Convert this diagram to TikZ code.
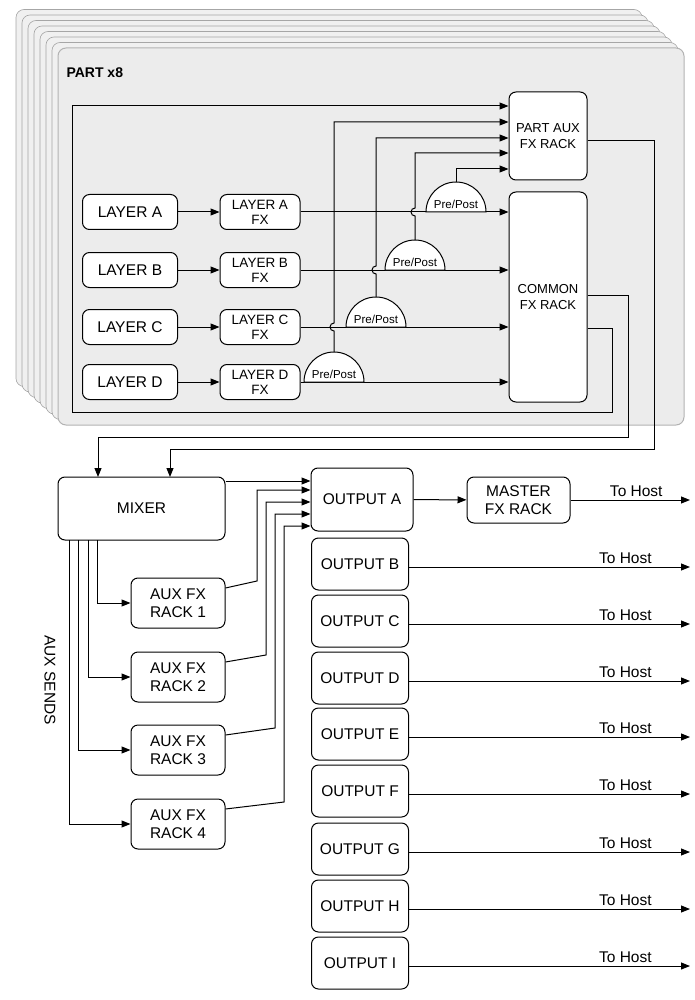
\documentclass[tikz,border=0pt]{standalone}
\usepackage{fontspec}
\setmainfont{Liberation Sans}
\usetikzlibrary{arrows.meta}
\begin{document}
\begin{tikzpicture}[x=1pt,y=-1pt,
  box/.style={draw,rounded corners=7pt,fill=white,line width=1pt,align=center,font=\fontsize{15.5}{18.5}\selectfont,inner sep=1pt},
  arr/.style={-{Triangle[length=9pt,width=7pt]},line width=1pt},
  pp/.style={draw,fill=white,line width=1pt}]
\useasboundingbox (0,0) rectangle (694,1000);
% stacked parts
\foreach \i in {7,6,...,1}{
  \draw[rounded corners=8pt,fill=gray!12,draw=gray!70,line width=0.6pt] (58-6*\i,48-5.5*\i) rectangle (684-6*\i,425-5.5*\i);
}
\draw[rounded corners=8pt,fill=gray!15,draw=gray!60,line width=1pt] (58,48) rectangle (684,425);
\node[font=\bfseries\fontsize{14}{16}\selectfont,anchor=west] (title) at (63,73) {PART x8};
% layer boxes
\foreach \l/\y in {A/212,B/270,C/327,D/382}{
  \node[box,minimum width=95pt,minimum height=35pt] (L\l) at (130,\y) {LAYER \l};
  \node[box,minimum width=80pt,minimum height=35pt,font=\fontsize{13.5}{15}\selectfont] (F\l) at (260,\y) {LAYER \l\\FX};
  \draw[arr] (L\l) -- (F\l);
}
\node[box,minimum width=78pt,minimum height=88pt,font=\fontsize{13}{16}\selectfont] (PA) at (548,136) {PART AUX\\FX RACK};
\node[box,minimum width=78pt,minimum height=210pt,font=\fontsize{13}{16}\selectfont] (CF) at (548,297) {COMMON\\FX RACK};
% main lines to common
\foreach \l/\y in {A/212,B/270,C/327,D/382}{
  \draw[arr] (F\l.east |- 0,\y) -- (CF.west |- 0,\y);
}
% pre/post send lines with hops
\draw[arr] (456,190) |- (PA.west |- 0,169);
\draw[arr] (415,245) -- (415,216) arc[start angle=90,end angle=270,radius=4] -- (415,153) -- (PA.west |- 0,153);
\draw[arr] (376,300) -- (376,274) arc[start angle=90,end angle=270,radius=4] -- (376,138) -- (PA.west |- 0,138);
\draw[arr] (334,355) -- (334,331) arc[start angle=90,end angle=270,radius=4] -- (334,122) -- (PA.west |- 0,122);
% pre/post semicircles
\foreach \x/\y [count=\k] in {456/212,415/270,376/327,334/382}{
  \draw[pp] (\x-30,\y) arc[start angle=180,end angle=360,radius=30] -- cycle;
  \node[font=\fontsize{11.5}{13}\selectfont,inner sep=0pt] (pp\k) at (\x,\y-8) {Pre/Post};
}
% loop from common to part aux
\draw[arr] (CF.east |- 0,328) -| (612,412) -| (72,106) -- (PA.west |- 0,106);
% mixer
\node[box,minimum width=167pt,minimum height=63pt] (MX) at (141.5,508.5) {MIXER};
\draw[arr] (CF.east |- 0,295) -| (628,437) -| (98,477);
\draw[arr] (PA.east |- 0,141) -| (654,449) -| (170,477);
% outputs
\node[box,minimum width=102pt,minimum height=63pt] (OA) at (362,499.5) {OUTPUT A};
\node[box,minimum width=103pt,minimum height=46pt] (MF) at (518.5,500) {MASTER\\FX RACK};
\coordinate (hA) at (690,500);
\draw[arr] (OA) -- (MF);
\draw[arr] (MF) -- node[above,font=\fontsize{15.5}{18}\selectfont,xshift=6pt] (thA) {To Host} (hA);
\foreach \o/\y in {B/564,C/621,D/678,E/734,F/791,G/849,H/906,I/963}{
  \node[box,minimum width=97pt,minimum height=52pt] (O\o) at (360,\y) {OUTPUT \o};
  \coordinate (h\o) at (690,\y+3);
  \draw[arr] (O\o.east |- 0,\y+3) -- node[above,font=\fontsize{15.5}{18}\selectfont,pos=0.77] (th\o) {To Host} (h\o);
}
% aux racks
\foreach \n/\y/\mx/\ox/\oy in {1/603/97/257/490,2/677/88/266/502,3/750/78/275/514,4/824/69/284/526}{
  \node[box,minimum width=94pt,minimum height=50pt] (R\n) at (178,\y) {AUX FX\\RACK \n};
  \draw[arr] (\mx,540) |- (R\n.west);
  \draw[arr] (R\n.east |- 0,\y-15) -- (\ox,\y-22) -- (\ox,\oy) -- (OA.west |- 0,\oy);
}
\draw[arr] (MX.east |- 0,481) -- (OA.west |- 0,481);
\node[rotate=-90,font=\fontsize{15.5}{18}\selectfont] (as) at (50,680) {AUX SENDS};
\end{tikzpicture}
\end{document}
